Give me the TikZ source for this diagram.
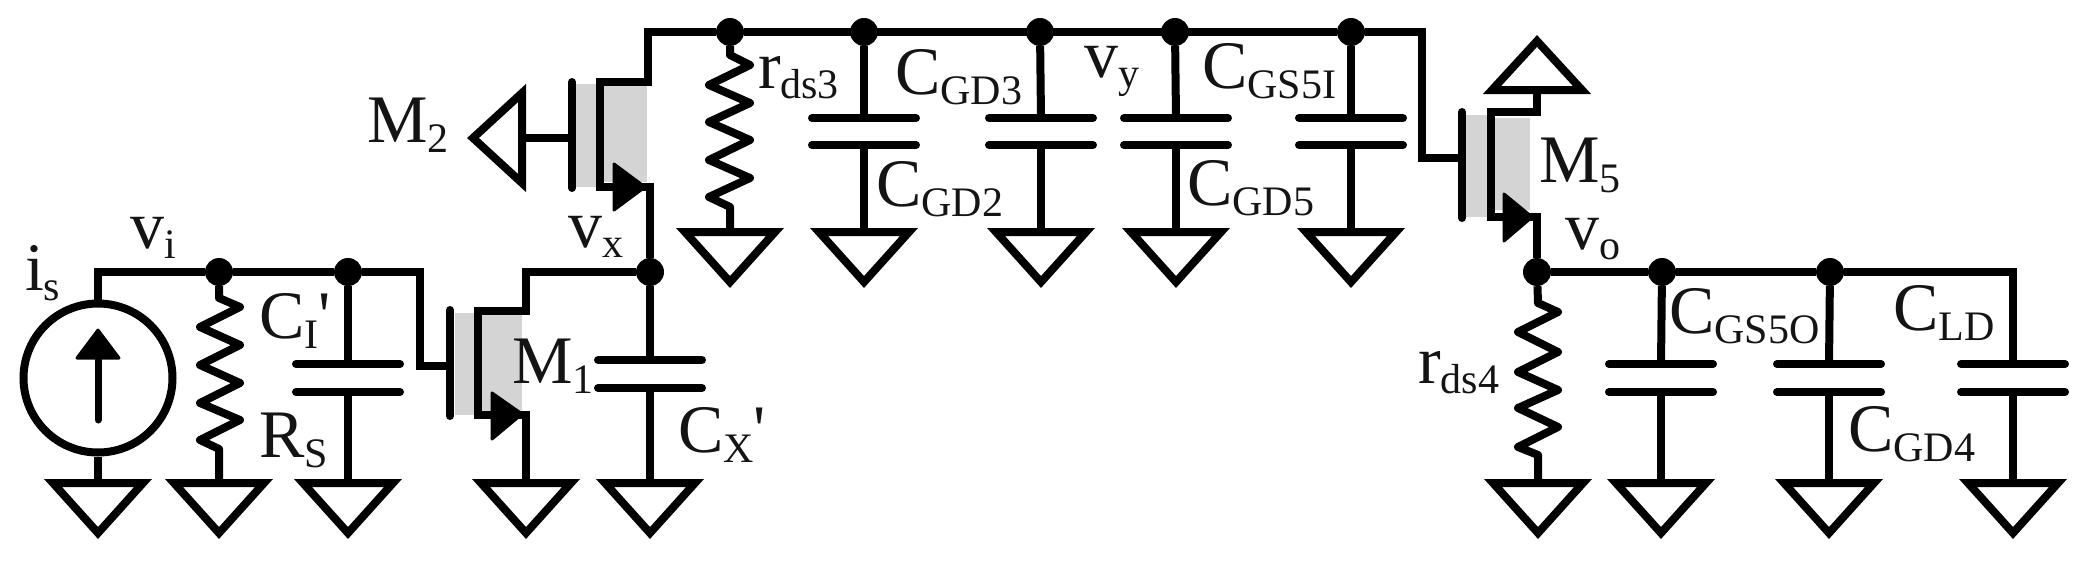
\documentclass[tikz,border=0pt]{standalone}
\usepackage{fontspec}
\setmainfont{Liberation Serif}
\newfontfamily\plainfont{Liberation Serif}
\usetikzlibrary{calc}
\definecolor{ink}{gray}{0.08}
\definecolor{shade}{RGB}{212,212,212}
\tikzset{
  wire/.style={draw=black,line width=8pt,line join=miter,miter limit=10},
  plate/.style={draw=black,line width=8pt,line cap=round},
  bar/.style={draw=black,line width=8pt,line cap=round},
  gndsym/.style={draw=black,line width=8pt,line join=miter,miter limit=10},
  zig/.style={draw=black,line width=8pt,line join=round},
  junction/.style={circle,fill=black,inner sep=0pt,minimum size=28pt},
  lab/.style={anchor=base west,inner sep=0pt,outer sep=0pt,text=ink,font=\fontsize{68}{68}\selectfont},
  tipfill/.style={fill=black,draw=black,line width=3pt,line join=round},
  shadebox/.style={fill=shade,draw=none}
}
% subscript helper
\newcommand{\sbs}[1]{\raisebox{-10pt}{\fontsize{42}{42}\selectfont #1}}
\newcommand{\prm}{{\plainfont'}}
% ground: name, x, y
\newcommand{\gndat}[3]{\coordinate (#1) at (#2,#3);
  \draw[gndsym] ($(#1)+(-45,0)$) -- ($(#1)+(45,0)$) -- ($(#1)+(0,50)$) -- cycle;}
% capacitor: name, x, y upper plate, y lower plate, half-width
\newcommand{\capat}[5]{\coordinate (#1a) at (#2,#3);\coordinate (#1b) at (#2,#4);
  \draw[plate] ($(#1a)+(-#5,0)$) -- ($(#1a)+(#5,0)$);
  \draw[plate] ($(#1b)+(-#5,0)$) -- ($(#1b)+(#5,0)$);}
% arrow head: base x, base top y, base bottom y, tip x, tip y
\newcommand{\tiphead}[5]{\path[tipfill] (#1,#2) -- (#4,#5) -- (#1,#3) -- cycle;}
\begin{document}
\begin{tikzpicture}[x=1pt,y=-1pt]
\useasboundingbox (0,0) rectangle (2093,562);
% ---- transistor shading
\fill[shadebox] (455,313) rectangle (476,415);
\fill[shadebox] (480,313) rectangle (522,412);
\fill[shadebox] (576,84) rectangle (597,187);
\fill[shadebox] (603,85) rectangle (647,182);
\fill[shadebox] (1466,115) rectangle (1488,217);
\fill[shadebox] (1494,118) rectangle (1530,210);
% ---- junctions
\node[junction] (vi1) at (219,272) {};
\node[junction] (vi2) at (348,272) {};
\node[junction] (vx) at (650,272) {};
\node[junction] (t1) at (730,32) {};
\node[junction] (t2) at (864,32) {};
\node[junction] (t3) at (1040,32) {};
\node[junction] (t4) at (1175,32) {};
\node[junction] (t5) at (1351,32) {};
\node[junction] (vo) at (1537,272) {};
\node[junction] (o2) at (1662,272) {};
\node[junction] (o3) at (1830,272) {};
% ---- grounds
\gndat{g1}{98}{483}
\gndat{g2}{219}{483}
\gndat{g3}{348}{483}
\gndat{g4}{526}{483}
\gndat{g5}{650}{483}
\gndat{g6}{730}{232}
\gndat{g7}{864}{232}
\gndat{g8}{1041}{232}
\gndat{g9}{1176}{232}
\gndat{g10}{1351}{232}
\gndat{g11}{1538}{483}
\gndat{g12}{1661}{483}
\gndat{g13}{1829}{483}
\gndat{g14}{2013}{483}
% ---- capacitors
\capat{c1}{348}{364}{392}{52}
\capat{c2}{650}{360}{388}{52}
\capat{c3}{864}{118}{145}{52}
\capat{c4}{1041}{118}{145}{52}
\capat{c5}{1176}{118}{145}{52}
\capat{c6}{1351}{118}{145}{52}
\capat{c7}{1661}{364}{392}{52}
\capat{c8}{1829}{364}{392}{52}
\capat{c9}{2013}{364}{392}{52}
% capacitor leads
\draw[wire] (vi2) -- (c1a); \draw[wire] (c1b) -- (g3);
\draw[wire] (vx) -- (c2a); \draw[wire] (c2b) -- (g5);
\draw[wire] (t2) -- (c3a); \draw[wire] (c3b) -- (g7);
\draw[wire] (t3) -- (c4a); \draw[wire] (c4b) -- (g8);
\draw[wire] (t4) -- (c5a); \draw[wire] (c5b) -- (g9);
\draw[wire] (t5) -- (c6a); \draw[wire] (c6b) -- (g10);
\draw[wire] (o2) -- (c7a); \draw[wire] (c7b) -- (g12);
\draw[wire] (o3) -- (c8a); \draw[wire] (c8b) -- (g13);
\draw[wire] (c9b) -- (g14);
% ---- current source
\node[circle,draw=black,line width=8pt,minimum size=149pt,inner sep=0pt] (src) at (98,378) {};
\coordinate (srcshaft) at (98,420);
\coordinate (srctip) at (98,360);
\draw[black,line width=7pt,line cap=round] (srcshaft) -- (srctip);
\path[tipfill] (98,330) -- (119,358) -- (77,358) -- cycle;
\draw[wire] (src.south) -- (g1);
\draw[wire] (src.north) |- (vi1);
% ---- input line
\coordinate (gate1in) at (450,366);
\draw[wire] (vi1) -- (vi2) -- (420,272) -- (420,366) -- (gate1in);
% resistors
\draw[zig] (vi1) -- (219,298) -- (240,307) -- (200,327) -- (240,345) -- (200,365) -- (240,383) -- (200,403) -- (240,420) -- (200,440) -- (219,449) -- (g2);
\draw[zig] (t1) -- (730,55) -- (750,65) -- (709,85) -- (750,103) -- (709,122) -- (750,140) -- (709,160) -- (750,178) -- (709,197) -- (730,207) -- (g6);
\draw[zig] (vo) -- (1538,303) -- (1558,312) -- (1518,332) -- (1558,352) -- (1518,372) -- (1558,390) -- (1518,408) -- (1558,427) -- (1518,447) -- (1538,455) -- (g11);
% ---- M1
\draw[bar] (450,310) -- (450,416);
\draw[wire] (vx) -- (526,272) -- (526,311) -- (478,311) -- (478,415) -- (526,415) -- (g4);
\tiphead{492}{393}{439}{522}{414}
% ---- M2
\draw[bar] (572,82) -- (572,188);
\draw[wire] (t1) -- (648,32) -- (648,82) -- (600,82) -- (600,187) -- (650,187) -- (vx);
\tiphead{614}{164}{210}{645}{187}
\coordinate (g2tri) at (522,138);
\draw[gndsym] (g2tri) ++(0,-45) -- ++(0,90) -- ++(-49,-45) -- cycle;
\draw[wire] (g2tri) -- (572,138);
% ---- top line and M5
\draw[wire] (t1) -- (t5) -- (1422,32) -- (1422,158) -- (1462,158);
\draw[bar] (1462,112) -- (1462,218);
\coordinate (g5tri) at (1537,90);
\draw[gndsym] ($(g5tri)+(-45,0)$) -- ($(g5tri)+(45,0)$) -- ($(g5tri)+(0,-49)$) -- cycle;
\draw[wire] (g5tri) -- (1537,112) -- (1491,112) -- (1491,217) -- (1537,217) -- (vo);
\tiphead{1504}{194}{241}{1532}{217}
% ---- output line
\draw[wire] (vo) -- (o2) -- (o3) -- (2013,272) -- (c9a);
% ---- labels
\node[lab] (l1) at (25,290) {i\sbs{s}};
\node[lab] (l2) at (130,248) {v\sbs{i}};
\node[lab] (l3) at (259,338) {C\sbs{I}\prm};
\node[lab] (l4) at (259,457) {R\sbs{S}};
\node[lab] (l5) at (512,383) {M\sbs{1}};
\node[lab] (l6) at (367,142) {M\sbs{2}};
\node[lab] (l7) at (568,247) {v\sbs{x}};
\node[lab] (l8) at (678,452) {C\sbs{X}\prm};
\node[lab] (l9) at (758,88) {r\sbs{ds3}};
\node[lab] (l10) at (895,94) {C\sbs{GD3}};
\node[lab] (l11) at (876,206) {C\sbs{GD2}};
\node[lab] (l12) at (1084,77) {v\sbs{y}};
\node[lab] (l13) at (1202,88) {C\sbs{GS5I}};
\node[lab] (l14) at (1187,205) {C\sbs{GD5}};
\node[lab] (l15) at (1539,182) {M\sbs{5}};
\node[lab] (l16) at (1565,249) {v\sbs{o}};
\node[lab] (l17) at (1418,383) {r\sbs{ds4}};
\node[lab] (l18) at (1669,333) {C\sbs{GS5O}};
\node[lab] (l19) at (1893,330) {C\sbs{LD}};
\node[lab] (l20) at (1848,451) {C\sbs{GD4}};
\end{tikzpicture}
\end{document}
